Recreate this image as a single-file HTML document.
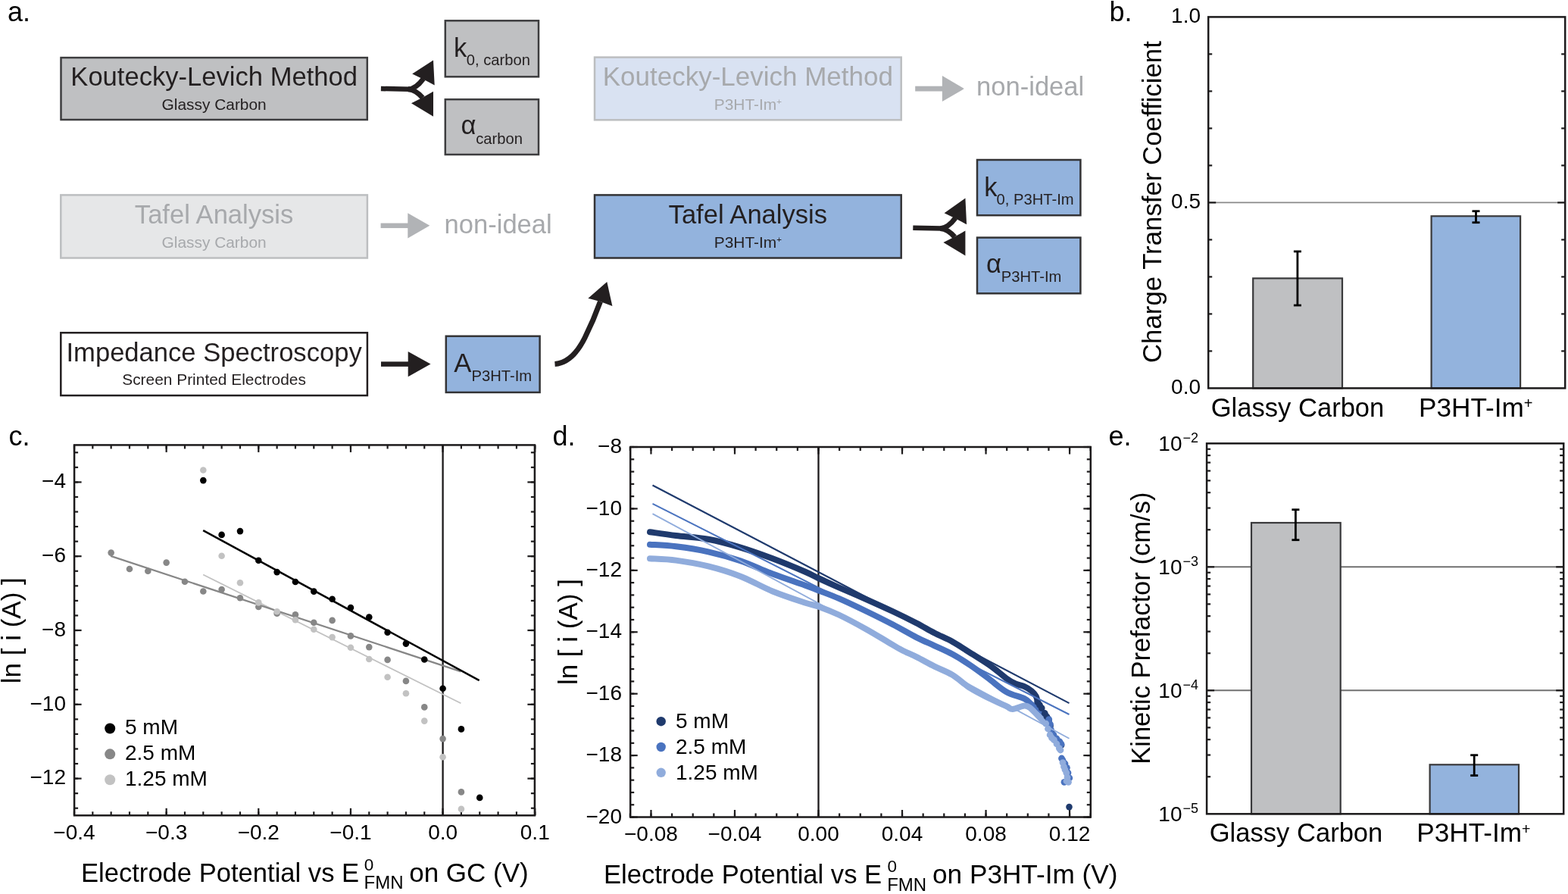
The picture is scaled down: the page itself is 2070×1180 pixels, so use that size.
<!DOCTYPE html>
<html><head><meta charset="utf-8"><title>Figure</title>
<style>
html,body{margin:0;padding:0;background:#fff;overflow:hidden;width:2070px;height:1180px;}
svg{display:block;}
svg text{font-family:"Liberation Sans", Arial, Helvetica, sans-serif;}
</style></head>
<body>
<svg width="2070" height="1180" viewBox="0 0 2070 1180">
<rect x="0" y="0" width="2070" height="1180" fill="#fff"/>
<text x="10" y="28" font-size="36" text-anchor="start" fill="#000" >a.</text>
<text x="1464.5" y="28" font-size="36" text-anchor="start" fill="#000" >b.</text>
<text x="11.5" y="588" font-size="36" text-anchor="start" fill="#000" >c.</text>
<text x="729.5" y="588" font-size="36" text-anchor="start" fill="#000" >d.</text>
<text x="1463.5" y="588" font-size="36" text-anchor="start" fill="#000" >e.</text>
<rect x="80.5" y="76.1" width="404.3" height="81.9" fill="#bfc0c2" stroke="#3d3d3f" stroke-width="2.5"/>
<text x="282.65" y="113.3" font-size="34.6" text-anchor="middle" fill="#231f20" >Koutecky-Levich Method</text>
<text x="282.65" y="145.3" font-size="20.9" text-anchor="middle" fill="#231f20" >Glassy Carbon</text>
<rect x="80.3" y="257.4" width="404.6" height="83.1" fill="#e6e7e8" stroke="#bcbec0" stroke-width="2.5"/>
<text x="282.6" y="294.6" font-size="34.6" text-anchor="middle" fill="#a7a9ac" >Tafel Analysis</text>
<text x="282.6" y="326.6" font-size="20.9" text-anchor="middle" fill="#a7a9ac" >Glassy Carbon</text>
<rect x="80.3" y="439.2" width="404.6" height="82.8" fill="#ffffff" stroke="#231f20" stroke-width="2.5"/>
<text x="282.6" y="477" font-size="34.6" text-anchor="middle" fill="#231f20" >Impedance Spectroscopy</text>
<text x="282.6" y="508.2" font-size="20.9" text-anchor="middle" fill="#231f20" >Screen Printed Electrodes</text>
<rect x="785" y="75.6" width="404.7" height="82.7" fill="#d9e2f2" stroke="#bcbec0" stroke-width="2.5"/>
<text x="987.35" y="112.6" font-size="35" text-anchor="middle" fill="#a7a9ac" >Koutecky-Levich Method</text>
<text x="987.35" y="144.8" font-size="20.9" text-anchor="middle" fill="#a7a9ac" >P3HT-Im<tspan font-size="11.5" dy="-7">+</tspan></text>
<rect x="785" y="257.4" width="404.7" height="83.1" fill="#93b3dd" stroke="#333335" stroke-width="2.5"/>
<text x="987.35" y="294.6" font-size="34.6" text-anchor="middle" fill="#231f20" >Tafel Analysis</text>
<text x="987.35" y="326.6" font-size="20.9" text-anchor="middle" fill="#231f20" >P3HT-Im<tspan font-size="11.5" dy="-7">+</tspan></text>
<rect x="587.8" y="27.3" width="123.2" height="74" fill="#bfc0c2" stroke="#3d3d3f" stroke-width="2.5"/>
<text x="599" y="74.5" font-size="34.6" text-anchor="start" fill="#231f20" >k</text>
<text x="615.8" y="86.2" font-size="20.2" text-anchor="start" fill="#231f20" >0, carbon</text>
<rect x="587.8" y="131.2" width="123.2" height="72.8" fill="#bfc0c2" stroke="#3d3d3f" stroke-width="2.5"/>
<text x="608.5" y="177" font-size="34.6" text-anchor="start" fill="#231f20" >α</text>
<text x="628.2" y="189.6" font-size="20.2" text-anchor="start" fill="#231f20" >carbon</text>
<rect x="588.8" y="443.7" width="123.8" height="74.2" fill="#93b3dd" stroke="#333335" stroke-width="2.5"/>
<text x="599.3" y="491" font-size="34.6" text-anchor="start" fill="#231f20" >A</text>
<text x="622.5" y="502.8" font-size="20.2" text-anchor="start" fill="#231f20" >P3HT-Im</text>
<rect x="1290" y="211" width="136.4" height="73.2" fill="#93b3dd" stroke="#333335" stroke-width="2.5"/>
<text x="1299.2" y="258.6" font-size="34.6" text-anchor="start" fill="#231f20" >k</text>
<text x="1315.6" y="269.6" font-size="20.2" text-anchor="start" fill="#231f20" >0, P3HT-Im</text>
<rect x="1290" y="313.6" width="136.4" height="73.7" fill="#93b3dd" stroke="#333335" stroke-width="2.5"/>
<text x="1302" y="360.2" font-size="34.6" text-anchor="start" fill="#231f20" >α</text>
<text x="1321.8" y="372" font-size="20.2" text-anchor="start" fill="#231f20" >P3HT-Im</text>
<rect x="503" y="477.35" width="36.7" height="6.5" fill="#231f20"/>
<polygon points="538.7,464 568.5,480.6 538.7,497.2" fill="#231f20"/>
<rect x="502.6" y="294.55" width="36.7" height="6.5" fill="#b1b3b6"/>
<polygon points="538.3,281.2 567.3,297.8 538.3,314.4" fill="#b1b3b6"/>
<rect x="1208.2" y="113.7" width="36.7" height="6.8" fill="#b1b3b6"/>
<polygon points="1243.9,100.1 1272.9,117.1 1243.9,134.1" fill="#b1b3b6"/>
<path d="M502.9,117 L540.9,117.8" stroke="#231f20" stroke-width="6.5" fill="none"/>
<path d="M538.9,117.8 Q548.9,117.5 558.9,104" stroke="#231f20" stroke-width="6.8" fill="none"/>
<path d="M538.9,117.8 Q548.9,118.5 557.9,129" stroke="#231f20" stroke-width="6.8" fill="none"/>
<polygon points="572,79.6 544.2,97.4 558.7,104.4 573.7,112.4" fill="#231f20"/>
<polygon points="572,153.7 543,136.3 557.4,129 572,120.8" fill="#231f20"/>
<path d="M1205.3,300.8 L1243.3,301.6" stroke="#231f20" stroke-width="6.5" fill="none"/>
<path d="M1241.3,301.6 Q1251.3,301.3 1261.3,287.8" stroke="#231f20" stroke-width="6.8" fill="none"/>
<path d="M1241.3,301.6 Q1251.3,302.3 1260.3,312.8" stroke="#231f20" stroke-width="6.8" fill="none"/>
<polygon points="1274.4,261.6 1246.6,281.2 1261.1,288.2 1276.1,296.2" fill="#231f20"/>
<polygon points="1274.4,337.5 1245.4,320.1 1259.8,312.8 1274.4,304.6" fill="#231f20"/>
<path d="M732.5,480.4 C752,479 764,462 772,446 C780,430 786,416 792.5,398" stroke="#231f20" stroke-width="7" fill="none"/>
<polygon points="801.3,371.9 776.4,393.8 792.4,398 808.4,404.1" fill="#231f20"/>
<text x="586.5" y="307.8" font-size="34.6" text-anchor="start" fill="#a7a9ac" >non-ideal</text>
<text x="1289" y="126.2" font-size="34.6" text-anchor="start" fill="#a7a9ac" >non-ideal</text>
<line x1="1595.2" y1="267.4" x2="2066.2" y2="267.4" stroke="#8a8a8a" stroke-width="1.9" />
<rect x="1654.2" y="367.36" width="117.8" height="145.04" fill="#bfc0c2" stroke="#39393b" stroke-width="2.2"/>
<rect x="1889.6" y="285.28" width="117.5" height="227.12" fill="#93b3dd" stroke="#39393b" stroke-width="2.2"/>
<line x1="1712.9" y1="331.9" x2="1712.9" y2="403" stroke="#000" stroke-width="2.8" />
<line x1="1707.9" y1="331.9" x2="1717.9" y2="331.9" stroke="#000" stroke-width="2.8" />
<line x1="1707.9" y1="403" x2="1717.9" y2="403" stroke="#000" stroke-width="2.8" />
<line x1="1948.5" y1="278.7" x2="1948.5" y2="293.7" stroke="#000" stroke-width="2.8" />
<line x1="1943.5" y1="278.7" x2="1953.5" y2="278.7" stroke="#000" stroke-width="2.8" />
<line x1="1943.5" y1="293.7" x2="1953.5" y2="293.7" stroke="#000" stroke-width="2.8" />
<line x1="1595.2" y1="463.4" x2="1600.2" y2="463.4" stroke="#1c1a1b" stroke-width="2.2" />
<line x1="2066.2" y1="463.4" x2="2061.2" y2="463.4" stroke="#1c1a1b" stroke-width="2.2" />
<line x1="1595.2" y1="414.4" x2="1600.2" y2="414.4" stroke="#1c1a1b" stroke-width="2.2" />
<line x1="2066.2" y1="414.4" x2="2061.2" y2="414.4" stroke="#1c1a1b" stroke-width="2.2" />
<line x1="1595.2" y1="365.4" x2="1600.2" y2="365.4" stroke="#1c1a1b" stroke-width="2.2" />
<line x1="2066.2" y1="365.4" x2="2061.2" y2="365.4" stroke="#1c1a1b" stroke-width="2.2" />
<line x1="1595.2" y1="316.4" x2="1600.2" y2="316.4" stroke="#1c1a1b" stroke-width="2.2" />
<line x1="2066.2" y1="316.4" x2="2061.2" y2="316.4" stroke="#1c1a1b" stroke-width="2.2" />
<line x1="1595.2" y1="218.4" x2="1600.2" y2="218.4" stroke="#1c1a1b" stroke-width="2.2" />
<line x1="2066.2" y1="218.4" x2="2061.2" y2="218.4" stroke="#1c1a1b" stroke-width="2.2" />
<line x1="1595.2" y1="169.4" x2="1600.2" y2="169.4" stroke="#1c1a1b" stroke-width="2.2" />
<line x1="2066.2" y1="169.4" x2="2061.2" y2="169.4" stroke="#1c1a1b" stroke-width="2.2" />
<line x1="1595.2" y1="120.4" x2="1600.2" y2="120.4" stroke="#1c1a1b" stroke-width="2.2" />
<line x1="2066.2" y1="120.4" x2="2061.2" y2="120.4" stroke="#1c1a1b" stroke-width="2.2" />
<line x1="1595.2" y1="71.4" x2="1600.2" y2="71.4" stroke="#1c1a1b" stroke-width="2.2" />
<line x1="2066.2" y1="71.4" x2="2061.2" y2="71.4" stroke="#1c1a1b" stroke-width="2.2" />
<line x1="1595.2" y1="267.4" x2="1605.2" y2="267.4" stroke="#1c1a1b" stroke-width="2.2" />
<line x1="2066.2" y1="267.4" x2="2056.2" y2="267.4" stroke="#1c1a1b" stroke-width="2.2" />
<rect x="1595.2" y="22.4" width="471" height="490" fill="none" stroke="#1c1a1b" stroke-width="2.5"/>
<text x="1585" y="520.1" font-size="28" text-anchor="end" fill="#000" >0.0</text>
<text x="1585" y="275.1" font-size="28" text-anchor="end" fill="#000" >0.5</text>
<text x="1585" y="30.1" font-size="28" text-anchor="end" fill="#000" >1.0</text>
<text x="1713" y="549.8" font-size="34.6" text-anchor="middle" fill="#000" >Glassy Carbon</text>
<text x="1948.2" y="550" font-size="35.2" text-anchor="middle" fill="#000" >P3HT-Im<tspan font-size="20" dy="-11.5">+</tspan></text>
<text x="0" y="0" font-size="34.8" text-anchor="middle" fill="#000" transform="translate(1533.4,266.6) rotate(-90)">Charge Transfer Coefficient</text>
<line x1="98" y1="1076.3" x2="98" y2="1071.3" stroke="#1c1a1b" stroke-width="2.2" />
<line x1="98" y1="587.4" x2="98" y2="592.4" stroke="#1c1a1b" stroke-width="2.2" />
<line x1="122.33" y1="1076.3" x2="122.33" y2="1071.3" stroke="#1c1a1b" stroke-width="2.2" />
<line x1="122.33" y1="587.4" x2="122.33" y2="592.4" stroke="#1c1a1b" stroke-width="2.2" />
<line x1="146.66" y1="1076.3" x2="146.66" y2="1071.3" stroke="#1c1a1b" stroke-width="2.2" />
<line x1="146.66" y1="587.4" x2="146.66" y2="592.4" stroke="#1c1a1b" stroke-width="2.2" />
<line x1="170.99" y1="1076.3" x2="170.99" y2="1071.3" stroke="#1c1a1b" stroke-width="2.2" />
<line x1="170.99" y1="587.4" x2="170.99" y2="592.4" stroke="#1c1a1b" stroke-width="2.2" />
<line x1="195.32" y1="1076.3" x2="195.32" y2="1071.3" stroke="#1c1a1b" stroke-width="2.2" />
<line x1="195.32" y1="587.4" x2="195.32" y2="592.4" stroke="#1c1a1b" stroke-width="2.2" />
<line x1="219.65" y1="1076.3" x2="219.65" y2="1071.3" stroke="#1c1a1b" stroke-width="2.2" />
<line x1="219.65" y1="587.4" x2="219.65" y2="592.4" stroke="#1c1a1b" stroke-width="2.2" />
<line x1="243.98" y1="1076.3" x2="243.98" y2="1071.3" stroke="#1c1a1b" stroke-width="2.2" />
<line x1="243.98" y1="587.4" x2="243.98" y2="592.4" stroke="#1c1a1b" stroke-width="2.2" />
<line x1="268.31" y1="1076.3" x2="268.31" y2="1071.3" stroke="#1c1a1b" stroke-width="2.2" />
<line x1="268.31" y1="587.4" x2="268.31" y2="592.4" stroke="#1c1a1b" stroke-width="2.2" />
<line x1="292.64" y1="1076.3" x2="292.64" y2="1071.3" stroke="#1c1a1b" stroke-width="2.2" />
<line x1="292.64" y1="587.4" x2="292.64" y2="592.4" stroke="#1c1a1b" stroke-width="2.2" />
<line x1="316.97" y1="1076.3" x2="316.97" y2="1071.3" stroke="#1c1a1b" stroke-width="2.2" />
<line x1="316.97" y1="587.4" x2="316.97" y2="592.4" stroke="#1c1a1b" stroke-width="2.2" />
<line x1="341.3" y1="1076.3" x2="341.3" y2="1071.3" stroke="#1c1a1b" stroke-width="2.2" />
<line x1="341.3" y1="587.4" x2="341.3" y2="592.4" stroke="#1c1a1b" stroke-width="2.2" />
<line x1="365.63" y1="1076.3" x2="365.63" y2="1071.3" stroke="#1c1a1b" stroke-width="2.2" />
<line x1="365.63" y1="587.4" x2="365.63" y2="592.4" stroke="#1c1a1b" stroke-width="2.2" />
<line x1="389.96" y1="1076.3" x2="389.96" y2="1071.3" stroke="#1c1a1b" stroke-width="2.2" />
<line x1="389.96" y1="587.4" x2="389.96" y2="592.4" stroke="#1c1a1b" stroke-width="2.2" />
<line x1="414.29" y1="1076.3" x2="414.29" y2="1071.3" stroke="#1c1a1b" stroke-width="2.2" />
<line x1="414.29" y1="587.4" x2="414.29" y2="592.4" stroke="#1c1a1b" stroke-width="2.2" />
<line x1="438.62" y1="1076.3" x2="438.62" y2="1071.3" stroke="#1c1a1b" stroke-width="2.2" />
<line x1="438.62" y1="587.4" x2="438.62" y2="592.4" stroke="#1c1a1b" stroke-width="2.2" />
<line x1="462.95" y1="1076.3" x2="462.95" y2="1071.3" stroke="#1c1a1b" stroke-width="2.2" />
<line x1="462.95" y1="587.4" x2="462.95" y2="592.4" stroke="#1c1a1b" stroke-width="2.2" />
<line x1="487.28" y1="1076.3" x2="487.28" y2="1071.3" stroke="#1c1a1b" stroke-width="2.2" />
<line x1="487.28" y1="587.4" x2="487.28" y2="592.4" stroke="#1c1a1b" stroke-width="2.2" />
<line x1="511.61" y1="1076.3" x2="511.61" y2="1071.3" stroke="#1c1a1b" stroke-width="2.2" />
<line x1="511.61" y1="587.4" x2="511.61" y2="592.4" stroke="#1c1a1b" stroke-width="2.2" />
<line x1="535.94" y1="1076.3" x2="535.94" y2="1071.3" stroke="#1c1a1b" stroke-width="2.2" />
<line x1="535.94" y1="587.4" x2="535.94" y2="592.4" stroke="#1c1a1b" stroke-width="2.2" />
<line x1="560.27" y1="1076.3" x2="560.27" y2="1071.3" stroke="#1c1a1b" stroke-width="2.2" />
<line x1="560.27" y1="587.4" x2="560.27" y2="592.4" stroke="#1c1a1b" stroke-width="2.2" />
<line x1="584.6" y1="1076.3" x2="584.6" y2="1071.3" stroke="#1c1a1b" stroke-width="2.2" />
<line x1="584.6" y1="587.4" x2="584.6" y2="592.4" stroke="#1c1a1b" stroke-width="2.2" />
<line x1="608.93" y1="1076.3" x2="608.93" y2="1071.3" stroke="#1c1a1b" stroke-width="2.2" />
<line x1="608.93" y1="587.4" x2="608.93" y2="592.4" stroke="#1c1a1b" stroke-width="2.2" />
<line x1="633.26" y1="1076.3" x2="633.26" y2="1071.3" stroke="#1c1a1b" stroke-width="2.2" />
<line x1="633.26" y1="587.4" x2="633.26" y2="592.4" stroke="#1c1a1b" stroke-width="2.2" />
<line x1="657.59" y1="1076.3" x2="657.59" y2="1071.3" stroke="#1c1a1b" stroke-width="2.2" />
<line x1="657.59" y1="587.4" x2="657.59" y2="592.4" stroke="#1c1a1b" stroke-width="2.2" />
<line x1="681.92" y1="1076.3" x2="681.92" y2="1071.3" stroke="#1c1a1b" stroke-width="2.2" />
<line x1="681.92" y1="587.4" x2="681.92" y2="592.4" stroke="#1c1a1b" stroke-width="2.2" />
<line x1="706.25" y1="1076.3" x2="706.25" y2="1071.3" stroke="#1c1a1b" stroke-width="2.2" />
<line x1="706.25" y1="587.4" x2="706.25" y2="592.4" stroke="#1c1a1b" stroke-width="2.2" />
<line x1="98" y1="1076.3" x2="98" y2="1066.8" stroke="#1c1a1b" stroke-width="2.2" />
<line x1="98" y1="587.4" x2="98" y2="596.9" stroke="#1c1a1b" stroke-width="2.2" />
<line x1="219.65" y1="1076.3" x2="219.65" y2="1066.8" stroke="#1c1a1b" stroke-width="2.2" />
<line x1="219.65" y1="587.4" x2="219.65" y2="596.9" stroke="#1c1a1b" stroke-width="2.2" />
<line x1="341.3" y1="1076.3" x2="341.3" y2="1066.8" stroke="#1c1a1b" stroke-width="2.2" />
<line x1="341.3" y1="587.4" x2="341.3" y2="596.9" stroke="#1c1a1b" stroke-width="2.2" />
<line x1="462.95" y1="1076.3" x2="462.95" y2="1066.8" stroke="#1c1a1b" stroke-width="2.2" />
<line x1="462.95" y1="587.4" x2="462.95" y2="596.9" stroke="#1c1a1b" stroke-width="2.2" />
<line x1="584.6" y1="1076.3" x2="584.6" y2="1066.8" stroke="#1c1a1b" stroke-width="2.2" />
<line x1="584.6" y1="587.4" x2="584.6" y2="596.9" stroke="#1c1a1b" stroke-width="2.2" />
<line x1="706.25" y1="1076.3" x2="706.25" y2="1066.8" stroke="#1c1a1b" stroke-width="2.2" />
<line x1="706.25" y1="587.4" x2="706.25" y2="596.9" stroke="#1c1a1b" stroke-width="2.2" />
<line x1="98.1" y1="1066.72" x2="103.1" y2="1066.72" stroke="#1c1a1b" stroke-width="2.2" />
<line x1="705.9" y1="1066.72" x2="700.9" y2="1066.72" stroke="#1c1a1b" stroke-width="2.2" />
<line x1="98.1" y1="1047.16" x2="103.1" y2="1047.16" stroke="#1c1a1b" stroke-width="2.2" />
<line x1="705.9" y1="1047.16" x2="700.9" y2="1047.16" stroke="#1c1a1b" stroke-width="2.2" />
<line x1="98.1" y1="1027.6" x2="103.1" y2="1027.6" stroke="#1c1a1b" stroke-width="2.2" />
<line x1="705.9" y1="1027.6" x2="700.9" y2="1027.6" stroke="#1c1a1b" stroke-width="2.2" />
<line x1="98.1" y1="1008.04" x2="103.1" y2="1008.04" stroke="#1c1a1b" stroke-width="2.2" />
<line x1="705.9" y1="1008.04" x2="700.9" y2="1008.04" stroke="#1c1a1b" stroke-width="2.2" />
<line x1="98.1" y1="988.48" x2="103.1" y2="988.48" stroke="#1c1a1b" stroke-width="2.2" />
<line x1="705.9" y1="988.48" x2="700.9" y2="988.48" stroke="#1c1a1b" stroke-width="2.2" />
<line x1="98.1" y1="968.92" x2="103.1" y2="968.92" stroke="#1c1a1b" stroke-width="2.2" />
<line x1="705.9" y1="968.92" x2="700.9" y2="968.92" stroke="#1c1a1b" stroke-width="2.2" />
<line x1="98.1" y1="949.36" x2="103.1" y2="949.36" stroke="#1c1a1b" stroke-width="2.2" />
<line x1="705.9" y1="949.36" x2="700.9" y2="949.36" stroke="#1c1a1b" stroke-width="2.2" />
<line x1="98.1" y1="929.8" x2="103.1" y2="929.8" stroke="#1c1a1b" stroke-width="2.2" />
<line x1="705.9" y1="929.8" x2="700.9" y2="929.8" stroke="#1c1a1b" stroke-width="2.2" />
<line x1="98.1" y1="910.24" x2="103.1" y2="910.24" stroke="#1c1a1b" stroke-width="2.2" />
<line x1="705.9" y1="910.24" x2="700.9" y2="910.24" stroke="#1c1a1b" stroke-width="2.2" />
<line x1="98.1" y1="890.68" x2="103.1" y2="890.68" stroke="#1c1a1b" stroke-width="2.2" />
<line x1="705.9" y1="890.68" x2="700.9" y2="890.68" stroke="#1c1a1b" stroke-width="2.2" />
<line x1="98.1" y1="871.12" x2="103.1" y2="871.12" stroke="#1c1a1b" stroke-width="2.2" />
<line x1="705.9" y1="871.12" x2="700.9" y2="871.12" stroke="#1c1a1b" stroke-width="2.2" />
<line x1="98.1" y1="851.56" x2="103.1" y2="851.56" stroke="#1c1a1b" stroke-width="2.2" />
<line x1="705.9" y1="851.56" x2="700.9" y2="851.56" stroke="#1c1a1b" stroke-width="2.2" />
<line x1="98.1" y1="832" x2="103.1" y2="832" stroke="#1c1a1b" stroke-width="2.2" />
<line x1="705.9" y1="832" x2="700.9" y2="832" stroke="#1c1a1b" stroke-width="2.2" />
<line x1="98.1" y1="812.44" x2="103.1" y2="812.44" stroke="#1c1a1b" stroke-width="2.2" />
<line x1="705.9" y1="812.44" x2="700.9" y2="812.44" stroke="#1c1a1b" stroke-width="2.2" />
<line x1="98.1" y1="792.88" x2="103.1" y2="792.88" stroke="#1c1a1b" stroke-width="2.2" />
<line x1="705.9" y1="792.88" x2="700.9" y2="792.88" stroke="#1c1a1b" stroke-width="2.2" />
<line x1="98.1" y1="773.32" x2="103.1" y2="773.32" stroke="#1c1a1b" stroke-width="2.2" />
<line x1="705.9" y1="773.32" x2="700.9" y2="773.32" stroke="#1c1a1b" stroke-width="2.2" />
<line x1="98.1" y1="753.76" x2="103.1" y2="753.76" stroke="#1c1a1b" stroke-width="2.2" />
<line x1="705.9" y1="753.76" x2="700.9" y2="753.76" stroke="#1c1a1b" stroke-width="2.2" />
<line x1="98.1" y1="734.2" x2="103.1" y2="734.2" stroke="#1c1a1b" stroke-width="2.2" />
<line x1="705.9" y1="734.2" x2="700.9" y2="734.2" stroke="#1c1a1b" stroke-width="2.2" />
<line x1="98.1" y1="714.64" x2="103.1" y2="714.64" stroke="#1c1a1b" stroke-width="2.2" />
<line x1="705.9" y1="714.64" x2="700.9" y2="714.64" stroke="#1c1a1b" stroke-width="2.2" />
<line x1="98.1" y1="695.08" x2="103.1" y2="695.08" stroke="#1c1a1b" stroke-width="2.2" />
<line x1="705.9" y1="695.08" x2="700.9" y2="695.08" stroke="#1c1a1b" stroke-width="2.2" />
<line x1="98.1" y1="675.52" x2="103.1" y2="675.52" stroke="#1c1a1b" stroke-width="2.2" />
<line x1="705.9" y1="675.52" x2="700.9" y2="675.52" stroke="#1c1a1b" stroke-width="2.2" />
<line x1="98.1" y1="655.96" x2="103.1" y2="655.96" stroke="#1c1a1b" stroke-width="2.2" />
<line x1="705.9" y1="655.96" x2="700.9" y2="655.96" stroke="#1c1a1b" stroke-width="2.2" />
<line x1="98.1" y1="636.4" x2="103.1" y2="636.4" stroke="#1c1a1b" stroke-width="2.2" />
<line x1="705.9" y1="636.4" x2="700.9" y2="636.4" stroke="#1c1a1b" stroke-width="2.2" />
<line x1="98.1" y1="616.84" x2="103.1" y2="616.84" stroke="#1c1a1b" stroke-width="2.2" />
<line x1="705.9" y1="616.84" x2="700.9" y2="616.84" stroke="#1c1a1b" stroke-width="2.2" />
<line x1="98.1" y1="597.28" x2="103.1" y2="597.28" stroke="#1c1a1b" stroke-width="2.2" />
<line x1="705.9" y1="597.28" x2="700.9" y2="597.28" stroke="#1c1a1b" stroke-width="2.2" />
<line x1="98.1" y1="636.4" x2="107.6" y2="636.4" stroke="#1c1a1b" stroke-width="2.2" />
<line x1="705.9" y1="636.4" x2="696.4" y2="636.4" stroke="#1c1a1b" stroke-width="2.2" />
<line x1="98.1" y1="734.2" x2="107.6" y2="734.2" stroke="#1c1a1b" stroke-width="2.2" />
<line x1="705.9" y1="734.2" x2="696.4" y2="734.2" stroke="#1c1a1b" stroke-width="2.2" />
<line x1="98.1" y1="832" x2="107.6" y2="832" stroke="#1c1a1b" stroke-width="2.2" />
<line x1="705.9" y1="832" x2="696.4" y2="832" stroke="#1c1a1b" stroke-width="2.2" />
<line x1="98.1" y1="929.8" x2="107.6" y2="929.8" stroke="#1c1a1b" stroke-width="2.2" />
<line x1="705.9" y1="929.8" x2="696.4" y2="929.8" stroke="#1c1a1b" stroke-width="2.2" />
<line x1="98.1" y1="1027.6" x2="107.6" y2="1027.6" stroke="#1c1a1b" stroke-width="2.2" />
<line x1="705.9" y1="1027.6" x2="696.4" y2="1027.6" stroke="#1c1a1b" stroke-width="2.2" />
<line x1="584.6" y1="587.4" x2="584.6" y2="1076.3" stroke="#1c1a1b" stroke-width="2.3" />
<line x1="268.2" y1="758.5" x2="608.4" y2="928.3" stroke="#c2c2c2" stroke-width="1.8" />
<line x1="146.1" y1="733.9" x2="608.4" y2="886.4" stroke="#878787" stroke-width="2.2" />
<line x1="268.2" y1="700.1" x2="632.7" y2="898.1" stroke="#000000" stroke-width="2.6" />
<circle cx="146.66" cy="729.6" r="4.3" fill="#878787"/>
<circle cx="170.99" cy="751" r="4.3" fill="#878787"/>
<circle cx="195.32" cy="753.8" r="4.3" fill="#878787"/>
<circle cx="219.65" cy="742.6" r="4.3" fill="#878787"/>
<circle cx="243.98" cy="767.8" r="4.3" fill="#878787"/>
<circle cx="268.31" cy="780.5" r="4.3" fill="#878787"/>
<circle cx="292.64" cy="778.1" r="4.3" fill="#878787"/>
<circle cx="316.97" cy="789.3" r="4.3" fill="#878787"/>
<circle cx="341.3" cy="801" r="4.3" fill="#878787"/>
<circle cx="365.63" cy="809.8" r="4.3" fill="#878787"/>
<circle cx="389.96" cy="811.2" r="4.3" fill="#878787"/>
<circle cx="414.29" cy="821.7" r="4.3" fill="#878787"/>
<circle cx="438.62" cy="818.9" r="4.3" fill="#878787"/>
<circle cx="462.95" cy="839.4" r="4.3" fill="#878787"/>
<circle cx="487.28" cy="854.1" r="4.3" fill="#878787"/>
<circle cx="511.61" cy="870.9" r="4.3" fill="#878787"/>
<circle cx="535.94" cy="898.9" r="4.3" fill="#878787"/>
<circle cx="560.27" cy="933.4" r="4.3" fill="#878787"/>
<circle cx="584.6" cy="975.1" r="4.3" fill="#878787"/>
<circle cx="608.93" cy="1045.4" r="4.3" fill="#878787"/>
<circle cx="268.31" cy="620.5" r="4.3" fill="#c2c2c2"/>
<circle cx="292.64" cy="733.7" r="4.3" fill="#c2c2c2"/>
<circle cx="316.97" cy="769.3" r="4.3" fill="#c2c2c2"/>
<circle cx="341.3" cy="795.4" r="4.3" fill="#c2c2c2"/>
<circle cx="365.63" cy="807.3" r="4.3" fill="#c2c2c2"/>
<circle cx="389.96" cy="818.3" r="4.3" fill="#c2c2c2"/>
<circle cx="414.29" cy="830.8" r="4.3" fill="#c2c2c2"/>
<circle cx="438.62" cy="841.1" r="4.3" fill="#c2c2c2"/>
<circle cx="462.95" cy="854.7" r="4.3" fill="#c2c2c2"/>
<circle cx="487.28" cy="870" r="4.3" fill="#c2c2c2"/>
<circle cx="511.61" cy="893.8" r="4.3" fill="#c2c2c2"/>
<circle cx="535.94" cy="915.3" r="4.3" fill="#c2c2c2"/>
<circle cx="560.27" cy="951.6" r="4.3" fill="#c2c2c2"/>
<circle cx="584.6" cy="999.3" r="4.3" fill="#c2c2c2"/>
<circle cx="608.93" cy="1067.9" r="4.3" fill="#c2c2c2"/>
<circle cx="268.31" cy="634.1" r="4.3" fill="#000000"/>
<circle cx="292.64" cy="705.9" r="4.3" fill="#000000"/>
<circle cx="316.97" cy="701.1" r="4.3" fill="#000000"/>
<circle cx="341.3" cy="739.8" r="4.3" fill="#000000"/>
<circle cx="365.63" cy="755.1" r="4.3" fill="#000000"/>
<circle cx="389.96" cy="768" r="4.3" fill="#000000"/>
<circle cx="414.29" cy="780.6" r="4.3" fill="#000000"/>
<circle cx="438.62" cy="790.7" r="4.3" fill="#000000"/>
<circle cx="462.95" cy="802.1" r="4.3" fill="#000000"/>
<circle cx="487.28" cy="814.6" r="4.3" fill="#000000"/>
<circle cx="511.61" cy="834.7" r="4.3" fill="#000000"/>
<circle cx="535.94" cy="849.6" r="4.3" fill="#000000"/>
<circle cx="560.27" cy="870.5" r="4.3" fill="#000000"/>
<circle cx="584.6" cy="908.7" r="4.3" fill="#000000"/>
<circle cx="608.93" cy="962.4" r="4.3" fill="#000000"/>
<circle cx="633.26" cy="1052.9" r="4.3" fill="#000000"/>
<rect x="98.1" y="587.4" width="607.8" height="488.9" fill="none" stroke="#1c1a1b" stroke-width="2.5"/>
<text x="87" y="644.1" font-size="28" text-anchor="end" fill="#000" >−4</text>
<text x="87" y="741.9" font-size="28" text-anchor="end" fill="#000" >−6</text>
<text x="87" y="839.7" font-size="28" text-anchor="end" fill="#000" >−8</text>
<text x="87" y="937.5" font-size="28" text-anchor="end" fill="#000" >−10</text>
<text x="87" y="1035.3" font-size="28" text-anchor="end" fill="#000" >−12</text>
<text x="98" y="1107.6" font-size="28" text-anchor="middle" fill="#000" >−0.4</text>
<text x="219.65" y="1107.6" font-size="28" text-anchor="middle" fill="#000" >−0.3</text>
<text x="341.3" y="1107.6" font-size="28" text-anchor="middle" fill="#000" >−0.2</text>
<text x="462.95" y="1107.6" font-size="28" text-anchor="middle" fill="#000" >−0.1</text>
<text x="584.6" y="1107.6" font-size="28" text-anchor="middle" fill="#000" >0.0</text>
<text x="706.25" y="1107.6" font-size="28" text-anchor="middle" fill="#000" >0.1</text>
<circle cx="145.2" cy="961.5" r="7" fill="#000000"/>
<text x="165" y="969.3" font-size="28" text-anchor="start" fill="#000" >5 mM</text>
<circle cx="145.2" cy="995.35" r="7" fill="#878787"/>
<text x="165" y="1003.15" font-size="28" text-anchor="start" fill="#000" >2.5 mM</text>
<circle cx="145.2" cy="1029.2" r="7" fill="#c2c2c2"/>
<text x="165" y="1037" font-size="28" text-anchor="start" fill="#000" >1.25 mM</text>
<text x="0" y="0" font-size="35" text-anchor="middle" fill="#000" transform="translate(27.4,832.2) rotate(-90)">ln [ i (A) ]</text>
<text x="107" y="1164" font-size="34.6" text-anchor="start" fill="#000" >Electrode Potential vs E</text>
<text x="480.8" y="1149" font-size="22.5" text-anchor="start" fill="#000" >0</text>
<text x="480.6" y="1172.7" font-size="24" text-anchor="start" fill="#000" >FMN</text>
<text x="540.2" y="1164" font-size="35" text-anchor="start" fill="#000" >on GC (V)</text>
<line x1="831.83" y1="1078.5" x2="831.83" y2="1073.5" stroke="#1c1a1b" stroke-width="2.2" />
<line x1="831.83" y1="590" x2="831.83" y2="595" stroke="#1c1a1b" stroke-width="2.2" />
<line x1="859.46" y1="1078.5" x2="859.46" y2="1073.5" stroke="#1c1a1b" stroke-width="2.2" />
<line x1="859.46" y1="590" x2="859.46" y2="595" stroke="#1c1a1b" stroke-width="2.2" />
<line x1="887.09" y1="1078.5" x2="887.09" y2="1073.5" stroke="#1c1a1b" stroke-width="2.2" />
<line x1="887.09" y1="590" x2="887.09" y2="595" stroke="#1c1a1b" stroke-width="2.2" />
<line x1="914.72" y1="1078.5" x2="914.72" y2="1073.5" stroke="#1c1a1b" stroke-width="2.2" />
<line x1="914.72" y1="590" x2="914.72" y2="595" stroke="#1c1a1b" stroke-width="2.2" />
<line x1="942.35" y1="1078.5" x2="942.35" y2="1073.5" stroke="#1c1a1b" stroke-width="2.2" />
<line x1="942.35" y1="590" x2="942.35" y2="595" stroke="#1c1a1b" stroke-width="2.2" />
<line x1="969.98" y1="1078.5" x2="969.98" y2="1073.5" stroke="#1c1a1b" stroke-width="2.2" />
<line x1="969.98" y1="590" x2="969.98" y2="595" stroke="#1c1a1b" stroke-width="2.2" />
<line x1="997.61" y1="1078.5" x2="997.61" y2="1073.5" stroke="#1c1a1b" stroke-width="2.2" />
<line x1="997.61" y1="590" x2="997.61" y2="595" stroke="#1c1a1b" stroke-width="2.2" />
<line x1="1025.24" y1="1078.5" x2="1025.24" y2="1073.5" stroke="#1c1a1b" stroke-width="2.2" />
<line x1="1025.24" y1="590" x2="1025.24" y2="595" stroke="#1c1a1b" stroke-width="2.2" />
<line x1="1052.87" y1="1078.5" x2="1052.87" y2="1073.5" stroke="#1c1a1b" stroke-width="2.2" />
<line x1="1052.87" y1="590" x2="1052.87" y2="595" stroke="#1c1a1b" stroke-width="2.2" />
<line x1="1080.5" y1="1078.5" x2="1080.5" y2="1073.5" stroke="#1c1a1b" stroke-width="2.2" />
<line x1="1080.5" y1="590" x2="1080.5" y2="595" stroke="#1c1a1b" stroke-width="2.2" />
<line x1="1108.13" y1="1078.5" x2="1108.13" y2="1073.5" stroke="#1c1a1b" stroke-width="2.2" />
<line x1="1108.13" y1="590" x2="1108.13" y2="595" stroke="#1c1a1b" stroke-width="2.2" />
<line x1="1135.76" y1="1078.5" x2="1135.76" y2="1073.5" stroke="#1c1a1b" stroke-width="2.2" />
<line x1="1135.76" y1="590" x2="1135.76" y2="595" stroke="#1c1a1b" stroke-width="2.2" />
<line x1="1163.39" y1="1078.5" x2="1163.39" y2="1073.5" stroke="#1c1a1b" stroke-width="2.2" />
<line x1="1163.39" y1="590" x2="1163.39" y2="595" stroke="#1c1a1b" stroke-width="2.2" />
<line x1="1191.02" y1="1078.5" x2="1191.02" y2="1073.5" stroke="#1c1a1b" stroke-width="2.2" />
<line x1="1191.02" y1="590" x2="1191.02" y2="595" stroke="#1c1a1b" stroke-width="2.2" />
<line x1="1218.65" y1="1078.5" x2="1218.65" y2="1073.5" stroke="#1c1a1b" stroke-width="2.2" />
<line x1="1218.65" y1="590" x2="1218.65" y2="595" stroke="#1c1a1b" stroke-width="2.2" />
<line x1="1246.28" y1="1078.5" x2="1246.28" y2="1073.5" stroke="#1c1a1b" stroke-width="2.2" />
<line x1="1246.28" y1="590" x2="1246.28" y2="595" stroke="#1c1a1b" stroke-width="2.2" />
<line x1="1273.91" y1="1078.5" x2="1273.91" y2="1073.5" stroke="#1c1a1b" stroke-width="2.2" />
<line x1="1273.91" y1="590" x2="1273.91" y2="595" stroke="#1c1a1b" stroke-width="2.2" />
<line x1="1301.54" y1="1078.5" x2="1301.54" y2="1073.5" stroke="#1c1a1b" stroke-width="2.2" />
<line x1="1301.54" y1="590" x2="1301.54" y2="595" stroke="#1c1a1b" stroke-width="2.2" />
<line x1="1329.17" y1="1078.5" x2="1329.17" y2="1073.5" stroke="#1c1a1b" stroke-width="2.2" />
<line x1="1329.17" y1="590" x2="1329.17" y2="595" stroke="#1c1a1b" stroke-width="2.2" />
<line x1="1356.8" y1="1078.5" x2="1356.8" y2="1073.5" stroke="#1c1a1b" stroke-width="2.2" />
<line x1="1356.8" y1="590" x2="1356.8" y2="595" stroke="#1c1a1b" stroke-width="2.2" />
<line x1="1384.43" y1="1078.5" x2="1384.43" y2="1073.5" stroke="#1c1a1b" stroke-width="2.2" />
<line x1="1384.43" y1="590" x2="1384.43" y2="595" stroke="#1c1a1b" stroke-width="2.2" />
<line x1="1412.06" y1="1078.5" x2="1412.06" y2="1073.5" stroke="#1c1a1b" stroke-width="2.2" />
<line x1="1412.06" y1="590" x2="1412.06" y2="595" stroke="#1c1a1b" stroke-width="2.2" />
<line x1="1439.69" y1="1078.5" x2="1439.69" y2="1073.5" stroke="#1c1a1b" stroke-width="2.2" />
<line x1="1439.69" y1="590" x2="1439.69" y2="595" stroke="#1c1a1b" stroke-width="2.2" />
<line x1="859.46" y1="1078.5" x2="859.46" y2="1069" stroke="#1c1a1b" stroke-width="2.2" />
<line x1="859.46" y1="590" x2="859.46" y2="599.5" stroke="#1c1a1b" stroke-width="2.2" />
<line x1="969.98" y1="1078.5" x2="969.98" y2="1069" stroke="#1c1a1b" stroke-width="2.2" />
<line x1="969.98" y1="590" x2="969.98" y2="599.5" stroke="#1c1a1b" stroke-width="2.2" />
<line x1="1080.5" y1="1078.5" x2="1080.5" y2="1069" stroke="#1c1a1b" stroke-width="2.2" />
<line x1="1080.5" y1="590" x2="1080.5" y2="599.5" stroke="#1c1a1b" stroke-width="2.2" />
<line x1="1191.02" y1="1078.5" x2="1191.02" y2="1069" stroke="#1c1a1b" stroke-width="2.2" />
<line x1="1191.02" y1="590" x2="1191.02" y2="599.5" stroke="#1c1a1b" stroke-width="2.2" />
<line x1="1301.54" y1="1078.5" x2="1301.54" y2="1069" stroke="#1c1a1b" stroke-width="2.2" />
<line x1="1301.54" y1="590" x2="1301.54" y2="599.5" stroke="#1c1a1b" stroke-width="2.2" />
<line x1="1412.06" y1="1078.5" x2="1412.06" y2="1069" stroke="#1c1a1b" stroke-width="2.2" />
<line x1="1412.06" y1="590" x2="1412.06" y2="599.5" stroke="#1c1a1b" stroke-width="2.2" />
<line x1="832.2" y1="1078.52" x2="837.2" y2="1078.52" stroke="#1c1a1b" stroke-width="2.2" />
<line x1="1439.8" y1="1078.52" x2="1434.8" y2="1078.52" stroke="#1c1a1b" stroke-width="2.2" />
<line x1="832.2" y1="1062.24" x2="837.2" y2="1062.24" stroke="#1c1a1b" stroke-width="2.2" />
<line x1="1439.8" y1="1062.24" x2="1434.8" y2="1062.24" stroke="#1c1a1b" stroke-width="2.2" />
<line x1="832.2" y1="1045.95" x2="837.2" y2="1045.95" stroke="#1c1a1b" stroke-width="2.2" />
<line x1="1439.8" y1="1045.95" x2="1434.8" y2="1045.95" stroke="#1c1a1b" stroke-width="2.2" />
<line x1="832.2" y1="1029.67" x2="837.2" y2="1029.67" stroke="#1c1a1b" stroke-width="2.2" />
<line x1="1439.8" y1="1029.67" x2="1434.8" y2="1029.67" stroke="#1c1a1b" stroke-width="2.2" />
<line x1="832.2" y1="1013.38" x2="837.2" y2="1013.38" stroke="#1c1a1b" stroke-width="2.2" />
<line x1="1439.8" y1="1013.38" x2="1434.8" y2="1013.38" stroke="#1c1a1b" stroke-width="2.2" />
<line x1="832.2" y1="997.1" x2="837.2" y2="997.1" stroke="#1c1a1b" stroke-width="2.2" />
<line x1="1439.8" y1="997.1" x2="1434.8" y2="997.1" stroke="#1c1a1b" stroke-width="2.2" />
<line x1="832.2" y1="980.82" x2="837.2" y2="980.82" stroke="#1c1a1b" stroke-width="2.2" />
<line x1="1439.8" y1="980.82" x2="1434.8" y2="980.82" stroke="#1c1a1b" stroke-width="2.2" />
<line x1="832.2" y1="964.53" x2="837.2" y2="964.53" stroke="#1c1a1b" stroke-width="2.2" />
<line x1="1439.8" y1="964.53" x2="1434.8" y2="964.53" stroke="#1c1a1b" stroke-width="2.2" />
<line x1="832.2" y1="948.25" x2="837.2" y2="948.25" stroke="#1c1a1b" stroke-width="2.2" />
<line x1="1439.8" y1="948.25" x2="1434.8" y2="948.25" stroke="#1c1a1b" stroke-width="2.2" />
<line x1="832.2" y1="931.96" x2="837.2" y2="931.96" stroke="#1c1a1b" stroke-width="2.2" />
<line x1="1439.8" y1="931.96" x2="1434.8" y2="931.96" stroke="#1c1a1b" stroke-width="2.2" />
<line x1="832.2" y1="915.68" x2="837.2" y2="915.68" stroke="#1c1a1b" stroke-width="2.2" />
<line x1="1439.8" y1="915.68" x2="1434.8" y2="915.68" stroke="#1c1a1b" stroke-width="2.2" />
<line x1="832.2" y1="899.4" x2="837.2" y2="899.4" stroke="#1c1a1b" stroke-width="2.2" />
<line x1="1439.8" y1="899.4" x2="1434.8" y2="899.4" stroke="#1c1a1b" stroke-width="2.2" />
<line x1="832.2" y1="883.11" x2="837.2" y2="883.11" stroke="#1c1a1b" stroke-width="2.2" />
<line x1="1439.8" y1="883.11" x2="1434.8" y2="883.11" stroke="#1c1a1b" stroke-width="2.2" />
<line x1="832.2" y1="866.83" x2="837.2" y2="866.83" stroke="#1c1a1b" stroke-width="2.2" />
<line x1="1439.8" y1="866.83" x2="1434.8" y2="866.83" stroke="#1c1a1b" stroke-width="2.2" />
<line x1="832.2" y1="850.54" x2="837.2" y2="850.54" stroke="#1c1a1b" stroke-width="2.2" />
<line x1="1439.8" y1="850.54" x2="1434.8" y2="850.54" stroke="#1c1a1b" stroke-width="2.2" />
<line x1="832.2" y1="834.26" x2="837.2" y2="834.26" stroke="#1c1a1b" stroke-width="2.2" />
<line x1="1439.8" y1="834.26" x2="1434.8" y2="834.26" stroke="#1c1a1b" stroke-width="2.2" />
<line x1="832.2" y1="817.98" x2="837.2" y2="817.98" stroke="#1c1a1b" stroke-width="2.2" />
<line x1="1439.8" y1="817.98" x2="1434.8" y2="817.98" stroke="#1c1a1b" stroke-width="2.2" />
<line x1="832.2" y1="801.69" x2="837.2" y2="801.69" stroke="#1c1a1b" stroke-width="2.2" />
<line x1="1439.8" y1="801.69" x2="1434.8" y2="801.69" stroke="#1c1a1b" stroke-width="2.2" />
<line x1="832.2" y1="785.41" x2="837.2" y2="785.41" stroke="#1c1a1b" stroke-width="2.2" />
<line x1="1439.8" y1="785.41" x2="1434.8" y2="785.41" stroke="#1c1a1b" stroke-width="2.2" />
<line x1="832.2" y1="769.12" x2="837.2" y2="769.12" stroke="#1c1a1b" stroke-width="2.2" />
<line x1="1439.8" y1="769.12" x2="1434.8" y2="769.12" stroke="#1c1a1b" stroke-width="2.2" />
<line x1="832.2" y1="752.84" x2="837.2" y2="752.84" stroke="#1c1a1b" stroke-width="2.2" />
<line x1="1439.8" y1="752.84" x2="1434.8" y2="752.84" stroke="#1c1a1b" stroke-width="2.2" />
<line x1="832.2" y1="736.56" x2="837.2" y2="736.56" stroke="#1c1a1b" stroke-width="2.2" />
<line x1="1439.8" y1="736.56" x2="1434.8" y2="736.56" stroke="#1c1a1b" stroke-width="2.2" />
<line x1="832.2" y1="720.27" x2="837.2" y2="720.27" stroke="#1c1a1b" stroke-width="2.2" />
<line x1="1439.8" y1="720.27" x2="1434.8" y2="720.27" stroke="#1c1a1b" stroke-width="2.2" />
<line x1="832.2" y1="703.99" x2="837.2" y2="703.99" stroke="#1c1a1b" stroke-width="2.2" />
<line x1="1439.8" y1="703.99" x2="1434.8" y2="703.99" stroke="#1c1a1b" stroke-width="2.2" />
<line x1="832.2" y1="687.7" x2="837.2" y2="687.7" stroke="#1c1a1b" stroke-width="2.2" />
<line x1="1439.8" y1="687.7" x2="1434.8" y2="687.7" stroke="#1c1a1b" stroke-width="2.2" />
<line x1="832.2" y1="671.42" x2="837.2" y2="671.42" stroke="#1c1a1b" stroke-width="2.2" />
<line x1="1439.8" y1="671.42" x2="1434.8" y2="671.42" stroke="#1c1a1b" stroke-width="2.2" />
<line x1="832.2" y1="655.14" x2="837.2" y2="655.14" stroke="#1c1a1b" stroke-width="2.2" />
<line x1="1439.8" y1="655.14" x2="1434.8" y2="655.14" stroke="#1c1a1b" stroke-width="2.2" />
<line x1="832.2" y1="638.85" x2="837.2" y2="638.85" stroke="#1c1a1b" stroke-width="2.2" />
<line x1="1439.8" y1="638.85" x2="1434.8" y2="638.85" stroke="#1c1a1b" stroke-width="2.2" />
<line x1="832.2" y1="622.57" x2="837.2" y2="622.57" stroke="#1c1a1b" stroke-width="2.2" />
<line x1="1439.8" y1="622.57" x2="1434.8" y2="622.57" stroke="#1c1a1b" stroke-width="2.2" />
<line x1="832.2" y1="606.28" x2="837.2" y2="606.28" stroke="#1c1a1b" stroke-width="2.2" />
<line x1="1439.8" y1="606.28" x2="1434.8" y2="606.28" stroke="#1c1a1b" stroke-width="2.2" />
<line x1="832.2" y1="590" x2="837.2" y2="590" stroke="#1c1a1b" stroke-width="2.2" />
<line x1="1439.8" y1="590" x2="1434.8" y2="590" stroke="#1c1a1b" stroke-width="2.2" />
<line x1="832.2" y1="590" x2="841.7" y2="590" stroke="#1c1a1b" stroke-width="2.2" />
<line x1="1439.8" y1="590" x2="1430.3" y2="590" stroke="#1c1a1b" stroke-width="2.2" />
<line x1="832.2" y1="671.42" x2="841.7" y2="671.42" stroke="#1c1a1b" stroke-width="2.2" />
<line x1="1439.8" y1="671.42" x2="1430.3" y2="671.42" stroke="#1c1a1b" stroke-width="2.2" />
<line x1="832.2" y1="752.84" x2="841.7" y2="752.84" stroke="#1c1a1b" stroke-width="2.2" />
<line x1="1439.8" y1="752.84" x2="1430.3" y2="752.84" stroke="#1c1a1b" stroke-width="2.2" />
<line x1="832.2" y1="834.26" x2="841.7" y2="834.26" stroke="#1c1a1b" stroke-width="2.2" />
<line x1="1439.8" y1="834.26" x2="1430.3" y2="834.26" stroke="#1c1a1b" stroke-width="2.2" />
<line x1="832.2" y1="915.68" x2="841.7" y2="915.68" stroke="#1c1a1b" stroke-width="2.2" />
<line x1="1439.8" y1="915.68" x2="1430.3" y2="915.68" stroke="#1c1a1b" stroke-width="2.2" />
<line x1="832.2" y1="997.1" x2="841.7" y2="997.1" stroke="#1c1a1b" stroke-width="2.2" />
<line x1="1439.8" y1="997.1" x2="1430.3" y2="997.1" stroke="#1c1a1b" stroke-width="2.2" />
<line x1="832.2" y1="1078.52" x2="841.7" y2="1078.52" stroke="#1c1a1b" stroke-width="2.2" />
<line x1="1439.8" y1="1078.52" x2="1430.3" y2="1078.52" stroke="#1c1a1b" stroke-width="2.2" />
<line x1="1080.5" y1="590" x2="1080.5" y2="1078.5" stroke="#1c1a1b" stroke-width="2.3" />
<path d="M858,702.2 C863.75,703 879.67,705.4 892.5,707 C905.33,708.6 920.83,709.2 935,711.8 C949.17,714.4 963.33,718.35 977.5,722.6 C991.67,726.85 1005.83,731.98 1020,737.3 C1034.17,742.62 1052.47,750.22 1062.5,754.5 C1072.53,758.78 1072.72,759.53 1080.2,763 C1087.68,766.47 1096.93,770.67 1107.4,775.3 C1117.87,779.93 1131.13,785.52 1143,790.8 C1154.87,796.08 1167.43,801.72 1178.6,807 C1189.77,812.28 1200.82,817.75 1210,822.5 C1219.18,827.25 1225.8,831.42 1233.7,835.5 C1241.6,839.58 1249.48,842.62 1257.4,847 C1265.32,851.38 1273.28,856.8 1281.2,861.8 C1289.12,866.8 1298.97,872.98 1304.9,877 C1310.83,881.02 1312.85,882.83 1316.8,885.9 C1320.75,888.97 1324.65,892.63 1328.6,895.4 C1332.55,898.17 1336.55,900.72 1340.5,902.5 C1344.45,904.28 1348.75,904.52 1352.3,906.1 C1355.85,907.68 1359.22,909.83 1361.8,912 C1364.38,914.17 1366.43,916.53 1367.8,919.1 C1369.17,921.67 1369.63,926.02 1370,927.4" fill="none" stroke="#1f3a6d" stroke-width="8" stroke-linecap="round" stroke-linejoin="round"/>
<path d="M858,718.7 C863.75,719.13 879.67,719.7 892.5,721.3 C905.33,722.9 920.83,725.15 935,728.3 C949.17,731.45 963.33,735.33 977.5,740.2 C991.67,745.07 1005.83,752.13 1020,757.5 C1034.17,762.87 1052.47,768.78 1062.5,772.4 C1072.53,776.02 1072.72,776.28 1080.2,779.2 C1087.68,782.12 1096.93,785.35 1107.4,789.9 C1117.87,794.45 1131.13,800.77 1143,806.5 C1154.87,812.23 1167.43,818.48 1178.6,824.3 C1189.77,830.12 1200.82,836.73 1210,841.4 C1219.18,846.07 1225.8,848.6 1233.7,852.3 C1241.6,856 1249.48,859.28 1257.4,863.6 C1265.32,867.92 1273.28,872.9 1281.2,878.2 C1289.12,883.5 1297,889.57 1304.9,895.4 C1312.8,901.23 1320.7,908.75 1328.6,913.2 C1336.5,917.65 1346.73,919.32 1352.3,922.1 C1357.87,924.88 1358.4,927.35 1362,929.9 C1365.6,932.45 1370.12,934.12 1373.9,937.4 C1377.68,940.68 1382.9,947.57 1384.7,949.6" fill="none" stroke="#4a73bf" stroke-width="8" stroke-linecap="round" stroke-linejoin="round"/>
<path d="M858,737.3 C863.75,737.68 879.67,737.92 892.5,739.6 C905.33,741.28 920.83,743.88 935,747.4 C949.17,750.92 963.33,755.18 977.5,760.7 C991.67,766.22 1005.83,774.7 1020,780.5 C1034.17,786.3 1052.47,792.18 1062.5,795.5 C1072.53,798.82 1072.72,797.73 1080.2,800.4 C1087.68,803.07 1096.93,806.53 1107.4,811.5 C1117.87,816.47 1132.12,824.17 1143,830.2 C1153.88,836.23 1164.78,843.07 1172.7,847.7 C1180.62,852.33 1184.28,854.75 1190.5,858 C1196.72,861.25 1202.8,863.6 1210,867.2 C1217.2,870.8 1225.8,875.65 1233.7,879.6 C1241.6,883.55 1249.48,886.08 1257.4,890.9 C1265.32,895.72 1273.28,903.45 1281.2,908.5 C1289.12,913.55 1297,917.25 1304.9,921.2 C1312.8,925.15 1323.27,929.73 1328.6,932.2 C1333.93,934.67 1332.95,936.1 1336.9,936 C1340.85,935.9 1348.4,931.82 1352.3,931.6 C1356.2,931.38 1357.38,932.6 1360.3,934.7 C1363.22,936.8 1366.4,940.8 1369.8,944.2 C1373.2,947.6 1378.88,953.28 1380.7,955.1" fill="none" stroke="#90acdc" stroke-width="8" stroke-linecap="round" stroke-linejoin="round"/>
<circle cx="1369.8" cy="926.6" r="4.4" fill="#1f3a6d"/>
<circle cx="1372.5" cy="930.5" r="4.4" fill="#1f3a6d"/>
<circle cx="1375.2" cy="934.7" r="4.4" fill="#1f3a6d"/>
<circle cx="1379.3" cy="941.5" r="4.4" fill="#1f3a6d"/>
<circle cx="1382" cy="946" r="4.4" fill="#1f3a6d"/>
<circle cx="1384.5" cy="951" r="4.4" fill="#1f3a6d"/>
<circle cx="1386.5" cy="958" r="4.4" fill="#1f3a6d"/>
<circle cx="1388" cy="966" r="4.4" fill="#1f3a6d"/>
<circle cx="1391.5" cy="976" r="4.4" fill="#1f3a6d"/>
<circle cx="1395" cy="979" r="4.4" fill="#1f3a6d"/>
<circle cx="1399" cy="980" r="4.4" fill="#1f3a6d"/>
<circle cx="1401" cy="983.5" r="4.4" fill="#1f3a6d"/>
<circle cx="1384.7" cy="949.6" r="4.4" fill="#4a73bf"/>
<circle cx="1386.5" cy="956" r="4.4" fill="#4a73bf"/>
<circle cx="1387.4" cy="963.2" r="4.4" fill="#4a73bf"/>
<circle cx="1391" cy="970" r="4.4" fill="#4a73bf"/>
<circle cx="1395" cy="975" r="4.4" fill="#4a73bf"/>
<circle cx="1399" cy="979" r="4.4" fill="#4a73bf"/>
<circle cx="1401" cy="982.2" r="4.4" fill="#4a73bf"/>
<circle cx="1401.5" cy="1001" r="4.4" fill="#4a73bf"/>
<circle cx="1403" cy="1003.5" r="4.4" fill="#4a73bf"/>
<circle cx="1406" cy="1008" r="4.4" fill="#4a73bf"/>
<circle cx="1408.4" cy="1013.3" r="4.4" fill="#4a73bf"/>
<circle cx="1410" cy="1020" r="4.4" fill="#4a73bf"/>
<circle cx="1411.8" cy="1026.9" r="4.4" fill="#4a73bf"/>
<circle cx="1405" cy="1032.3" r="4.4" fill="#4a73bf"/>
<circle cx="1380.7" cy="955.1" r="4.4" fill="#90acdc"/>
<circle cx="1383.5" cy="962" r="4.4" fill="#90acdc"/>
<circle cx="1386.1" cy="970" r="4.4" fill="#90acdc"/>
<circle cx="1388.5" cy="974" r="4.4" fill="#90acdc"/>
<circle cx="1391.5" cy="976.7" r="4.4" fill="#90acdc"/>
<circle cx="1395" cy="982" r="4.4" fill="#90acdc"/>
<circle cx="1398.3" cy="987.6" r="4.4" fill="#90acdc"/>
<circle cx="1400" cy="990" r="4.4" fill="#90acdc"/>
<circle cx="1403" cy="1006.6" r="4.4" fill="#90acdc"/>
<circle cx="1404.5" cy="1012" r="4.4" fill="#90acdc"/>
<circle cx="1406" cy="1016" r="4.4" fill="#90acdc"/>
<circle cx="1407.8" cy="1020.1" r="4.4" fill="#90acdc"/>
<circle cx="1409" cy="1026" r="4.4" fill="#90acdc"/>
<circle cx="1410.5" cy="1032.3" r="4.4" fill="#90acdc"/>
<circle cx="1408" cy="1031" r="4.4" fill="#90acdc"/>
<circle cx="1411.5" cy="1065.1" r="4.3" fill="#1f3a6d"/>
<line x1="861.5" y1="678.1" x2="1411.5" y2="974.7" stroke="#90acdc" stroke-width="1.8" />
<line x1="861.5" y1="664.8" x2="1411.5" y2="943" stroke="#4a73bf" stroke-width="2" />
<line x1="861.5" y1="640.5" x2="1411.5" y2="928.1" stroke="#1f3a6d" stroke-width="2.2" />
<rect x="832.2" y="590" width="607.6" height="488.5" fill="none" stroke="#1c1a1b" stroke-width="2.5"/>
<text x="821" y="598.2" font-size="28" text-anchor="end" fill="#000" >−8</text>
<text x="821" y="679.62" font-size="28" text-anchor="end" fill="#000" >−10</text>
<text x="821" y="761.04" font-size="28" text-anchor="end" fill="#000" >−12</text>
<text x="821" y="842.46" font-size="28" text-anchor="end" fill="#000" >−14</text>
<text x="821" y="923.88" font-size="28" text-anchor="end" fill="#000" >−16</text>
<text x="821" y="1005.3" font-size="28" text-anchor="end" fill="#000" >−18</text>
<text x="821" y="1086.72" font-size="28" text-anchor="end" fill="#000" >−20</text>
<text x="859.46" y="1110" font-size="28" text-anchor="middle" fill="#000" >−0.08</text>
<text x="969.98" y="1110" font-size="28" text-anchor="middle" fill="#000" >−0.04</text>
<text x="1080.5" y="1110" font-size="28" text-anchor="middle" fill="#000" >0.00</text>
<text x="1191.02" y="1110" font-size="28" text-anchor="middle" fill="#000" >0.04</text>
<text x="1301.54" y="1110" font-size="28" text-anchor="middle" fill="#000" >0.08</text>
<text x="1412.06" y="1110" font-size="28" text-anchor="middle" fill="#000" >0.12</text>
<circle cx="872.7" cy="952.2" r="6.2" fill="#1f3a6d"/>
<text x="892" y="961.4" font-size="28" text-anchor="start" fill="#000" >5 mM</text>
<circle cx="872.7" cy="986" r="6.2" fill="#4a73bf"/>
<text x="892" y="995.2" font-size="28" text-anchor="start" fill="#000" >2.5 mM</text>
<circle cx="872.7" cy="1019.8" r="6.2" fill="#90acdc"/>
<text x="892" y="1029" font-size="28" text-anchor="start" fill="#000" >1.25 mM</text>
<text x="0" y="0" font-size="35" text-anchor="middle" fill="#000" transform="translate(762.0,834.1) rotate(-90)">ln [ i (A) ]</text>
<text x="797" y="1165.9" font-size="34.6" text-anchor="start" fill="#000" >Electrode Potential vs E</text>
<text x="1171.4" y="1151.4" font-size="22.5" text-anchor="start" fill="#000" >0</text>
<text x="1171.2" y="1175.6" font-size="24" text-anchor="start" fill="#000" >FMN</text>
<text x="1231" y="1165.9" font-size="35.2" text-anchor="start" fill="#000" >on P3HT-Im (V)</text>
<line x1="1593.1" y1="748.3" x2="2064.2" y2="748.3" stroke="#707070" stroke-width="2" />
<line x1="1593.1" y1="911.3" x2="2064.2" y2="911.3" stroke="#707070" stroke-width="2" />
<rect x="1652" y="690" width="117.7" height="384.3" fill="#bfc0c2" stroke="#39393b" stroke-width="2.2"/>
<rect x="1887.6" y="1009.3" width="117.4" height="65" fill="#93b3dd" stroke="#39393b" stroke-width="2.2"/>
<line x1="1710.4" y1="672.7" x2="1710.4" y2="712.7" stroke="#000" stroke-width="2.8" />
<line x1="1705.4" y1="672.7" x2="1715.4" y2="672.7" stroke="#000" stroke-width="2.8" />
<line x1="1705.4" y1="712.7" x2="1715.4" y2="712.7" stroke="#000" stroke-width="2.8" />
<line x1="1946.2" y1="996.7" x2="1946.2" y2="1023.6" stroke="#000" stroke-width="2.8" />
<line x1="1941.2" y1="996.7" x2="1951.2" y2="996.7" stroke="#000" stroke-width="2.8" />
<line x1="1941.2" y1="1023.6" x2="1951.2" y2="1023.6" stroke="#000" stroke-width="2.8" />
<line x1="1593.1" y1="1025.23" x2="1598.1" y2="1025.23" stroke="#1c1a1b" stroke-width="2.2" />
<line x1="2064.2" y1="1025.23" x2="2059.2" y2="1025.23" stroke="#1c1a1b" stroke-width="2.2" />
<line x1="1593.1" y1="996.53" x2="1598.1" y2="996.53" stroke="#1c1a1b" stroke-width="2.2" />
<line x1="2064.2" y1="996.53" x2="2059.2" y2="996.53" stroke="#1c1a1b" stroke-width="2.2" />
<line x1="1593.1" y1="976.16" x2="1598.1" y2="976.16" stroke="#1c1a1b" stroke-width="2.2" />
<line x1="2064.2" y1="976.16" x2="2059.2" y2="976.16" stroke="#1c1a1b" stroke-width="2.2" />
<line x1="1593.1" y1="960.37" x2="1598.1" y2="960.37" stroke="#1c1a1b" stroke-width="2.2" />
<line x1="2064.2" y1="960.37" x2="2059.2" y2="960.37" stroke="#1c1a1b" stroke-width="2.2" />
<line x1="1593.1" y1="947.46" x2="1598.1" y2="947.46" stroke="#1c1a1b" stroke-width="2.2" />
<line x1="2064.2" y1="947.46" x2="2059.2" y2="947.46" stroke="#1c1a1b" stroke-width="2.2" />
<line x1="1593.1" y1="936.55" x2="1598.1" y2="936.55" stroke="#1c1a1b" stroke-width="2.2" />
<line x1="2064.2" y1="936.55" x2="2059.2" y2="936.55" stroke="#1c1a1b" stroke-width="2.2" />
<line x1="1593.1" y1="927.1" x2="1598.1" y2="927.1" stroke="#1c1a1b" stroke-width="2.2" />
<line x1="2064.2" y1="927.1" x2="2059.2" y2="927.1" stroke="#1c1a1b" stroke-width="2.2" />
<line x1="1593.1" y1="918.76" x2="1598.1" y2="918.76" stroke="#1c1a1b" stroke-width="2.2" />
<line x1="2064.2" y1="918.76" x2="2059.2" y2="918.76" stroke="#1c1a1b" stroke-width="2.2" />
<line x1="1593.1" y1="862.23" x2="1598.1" y2="862.23" stroke="#1c1a1b" stroke-width="2.2" />
<line x1="2064.2" y1="862.23" x2="2059.2" y2="862.23" stroke="#1c1a1b" stroke-width="2.2" />
<line x1="1593.1" y1="833.53" x2="1598.1" y2="833.53" stroke="#1c1a1b" stroke-width="2.2" />
<line x1="2064.2" y1="833.53" x2="2059.2" y2="833.53" stroke="#1c1a1b" stroke-width="2.2" />
<line x1="1593.1" y1="813.16" x2="1598.1" y2="813.16" stroke="#1c1a1b" stroke-width="2.2" />
<line x1="2064.2" y1="813.16" x2="2059.2" y2="813.16" stroke="#1c1a1b" stroke-width="2.2" />
<line x1="1593.1" y1="797.37" x2="1598.1" y2="797.37" stroke="#1c1a1b" stroke-width="2.2" />
<line x1="2064.2" y1="797.37" x2="2059.2" y2="797.37" stroke="#1c1a1b" stroke-width="2.2" />
<line x1="1593.1" y1="784.46" x2="1598.1" y2="784.46" stroke="#1c1a1b" stroke-width="2.2" />
<line x1="2064.2" y1="784.46" x2="2059.2" y2="784.46" stroke="#1c1a1b" stroke-width="2.2" />
<line x1="1593.1" y1="773.55" x2="1598.1" y2="773.55" stroke="#1c1a1b" stroke-width="2.2" />
<line x1="2064.2" y1="773.55" x2="2059.2" y2="773.55" stroke="#1c1a1b" stroke-width="2.2" />
<line x1="1593.1" y1="764.1" x2="1598.1" y2="764.1" stroke="#1c1a1b" stroke-width="2.2" />
<line x1="2064.2" y1="764.1" x2="2059.2" y2="764.1" stroke="#1c1a1b" stroke-width="2.2" />
<line x1="1593.1" y1="755.76" x2="1598.1" y2="755.76" stroke="#1c1a1b" stroke-width="2.2" />
<line x1="2064.2" y1="755.76" x2="2059.2" y2="755.76" stroke="#1c1a1b" stroke-width="2.2" />
<line x1="1593.1" y1="699.23" x2="1598.1" y2="699.23" stroke="#1c1a1b" stroke-width="2.2" />
<line x1="2064.2" y1="699.23" x2="2059.2" y2="699.23" stroke="#1c1a1b" stroke-width="2.2" />
<line x1="1593.1" y1="670.53" x2="1598.1" y2="670.53" stroke="#1c1a1b" stroke-width="2.2" />
<line x1="2064.2" y1="670.53" x2="2059.2" y2="670.53" stroke="#1c1a1b" stroke-width="2.2" />
<line x1="1593.1" y1="650.16" x2="1598.1" y2="650.16" stroke="#1c1a1b" stroke-width="2.2" />
<line x1="2064.2" y1="650.16" x2="2059.2" y2="650.16" stroke="#1c1a1b" stroke-width="2.2" />
<line x1="1593.1" y1="634.37" x2="1598.1" y2="634.37" stroke="#1c1a1b" stroke-width="2.2" />
<line x1="2064.2" y1="634.37" x2="2059.2" y2="634.37" stroke="#1c1a1b" stroke-width="2.2" />
<line x1="1593.1" y1="621.46" x2="1598.1" y2="621.46" stroke="#1c1a1b" stroke-width="2.2" />
<line x1="2064.2" y1="621.46" x2="2059.2" y2="621.46" stroke="#1c1a1b" stroke-width="2.2" />
<line x1="1593.1" y1="610.55" x2="1598.1" y2="610.55" stroke="#1c1a1b" stroke-width="2.2" />
<line x1="2064.2" y1="610.55" x2="2059.2" y2="610.55" stroke="#1c1a1b" stroke-width="2.2" />
<line x1="1593.1" y1="601.1" x2="1598.1" y2="601.1" stroke="#1c1a1b" stroke-width="2.2" />
<line x1="2064.2" y1="601.1" x2="2059.2" y2="601.1" stroke="#1c1a1b" stroke-width="2.2" />
<line x1="1593.1" y1="592.76" x2="1598.1" y2="592.76" stroke="#1c1a1b" stroke-width="2.2" />
<line x1="2064.2" y1="592.76" x2="2059.2" y2="592.76" stroke="#1c1a1b" stroke-width="2.2" />
<line x1="1593.1" y1="911.3" x2="1603.1" y2="911.3" stroke="#1c1a1b" stroke-width="2.2" />
<line x1="2064.2" y1="911.3" x2="2054.2" y2="911.3" stroke="#1c1a1b" stroke-width="2.2" />
<line x1="1593.1" y1="748.3" x2="1603.1" y2="748.3" stroke="#1c1a1b" stroke-width="2.2" />
<line x1="2064.2" y1="748.3" x2="2054.2" y2="748.3" stroke="#1c1a1b" stroke-width="2.2" />
<rect x="1593.1" y="585.3" width="471.1" height="489" fill="none" stroke="#1c1a1b" stroke-width="2.5"/>
<text x="1560.5" y="595.1" font-size="28" text-anchor="end" fill="#000" >10</text>
<text x="1561.5" y="584" font-size="18" text-anchor="start" fill="#000" >−2</text>
<text x="1560.5" y="758.1" font-size="28" text-anchor="end" fill="#000" >10</text>
<text x="1561.5" y="747" font-size="18" text-anchor="start" fill="#000" >−3</text>
<text x="1560.5" y="921.1" font-size="28" text-anchor="end" fill="#000" >10</text>
<text x="1561.5" y="910" font-size="18" text-anchor="start" fill="#000" >−4</text>
<text x="1560.5" y="1084.1" font-size="28" text-anchor="end" fill="#000" >10</text>
<text x="1561.5" y="1073" font-size="18" text-anchor="start" fill="#000" >−5</text>
<text x="1711" y="1111.2" font-size="34.6" text-anchor="middle" fill="#000" >Glassy Carbon</text>
<text x="1945.4" y="1111.2" font-size="35.2" text-anchor="middle" fill="#000" >P3HT-Im<tspan font-size="19.5" dy="-10.5">+</tspan></text>
<text x="0" y="0" font-size="34.6" text-anchor="middle" fill="#000" transform="translate(1517.5,829.2) rotate(-90)">Kinetic Prefactor (cm/s)</text>
</svg>
</body></html>
